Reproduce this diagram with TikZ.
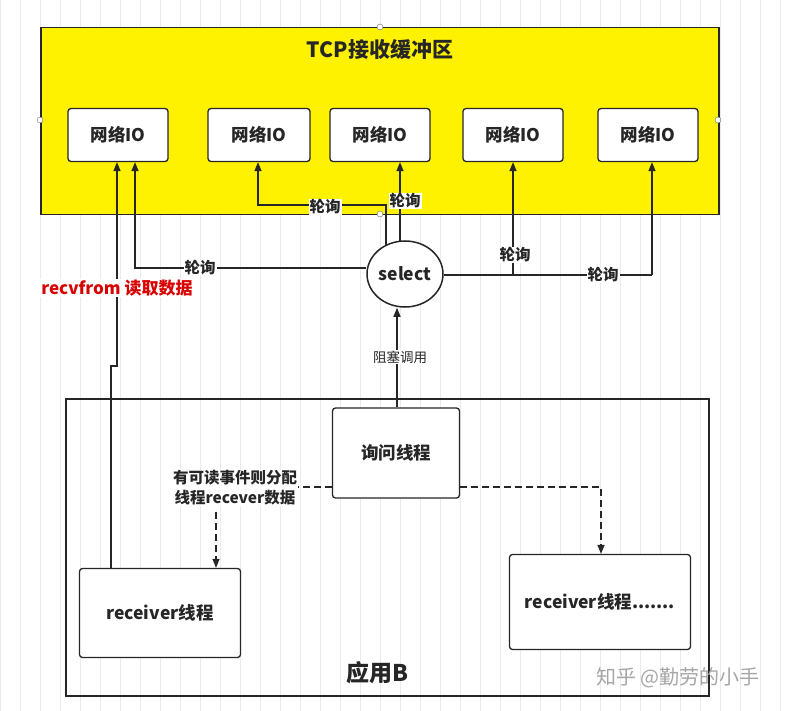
\documentclass[tikz,border=0pt]{standalone}
\usepackage{fontspec}
\setmainfont{Noto Sans CJK SC}
\usetikzlibrary{arrows.meta,shapes.geometric}
\begin{document}
\begin{tikzpicture}[x=1pt,y=-1pt,
  box/.style={draw=black!85,line width=1.3pt,rounded corners=3pt,fill=white,inner sep=0pt},
  lbl/.style={font=\bfseries\fontsize{17.5}{20}\selectfont,text=black!85},
  tag/.style={fill=white,inner sep=1pt,font=\bfseries\fontsize{15.5}{17}\selectfont,text=black!85},
  ar/.style={draw=black!85,line width=1.3pt,-{Triangle[length=9pt,width=7pt]}},
  ln/.style={draw=black!85,line width=1.3pt},
  handle/.style={circle,draw=black!60,fill=white,inner sep=0pt,minimum size=6pt}]
\useasboundingbox (0,0) rectangle (794,711);
\fill[white] (0,0) rectangle (794,711);
\draw[black!8,line width=0.6pt,step=20] (0,0) grid (794,711);
% yellow buffer
\node[draw=black!85,line width=1.5pt,fill=yellow,minimum width=678pt,minimum height=187pt,anchor=north west,inner sep=0pt] (buf) at (40,27) {};
\node[font=\bfseries\fontsize{21}{23}\selectfont,text=black!85] (title) at (380,50) {TCP接收缓冲区};
\node[handle] (h1) at (40,120) {};
\node[handle] (h2) at (718,120) {};
\node[handle] (h3) at (380,27) {};
% IO boxes
\node[box,lbl,minimum width=100pt,minimum height=53pt] (io1) at (118,135) {网络IO};
\node[box,lbl,minimum width=102pt,minimum height=53pt] (io2) at (259,135) {网络IO};
\node[box,lbl,minimum width=100pt,minimum height=53pt] (io3) at (380,135) {网络IO};
\node[box,lbl,minimum width=100pt,minimum height=53pt] (io4) at (513,135) {网络IO};
\node[box,lbl,minimum width=100pt,minimum height=53pt] (io5) at (648,135) {网络IO};
% select
\node[draw=black!85,line width=1.5pt,ellipse,fill=white,minimum width=76pt,minimum height=66pt,lbl,inner sep=0pt] (sel) at (405,274) {select};
% app
\node[draw=black!85,line width=1.5pt,minimum width=643pt,minimum height=297pt,anchor=north west,inner sep=0pt] (app) at (65,398) {};
\node[font=\bfseries\fontsize{23}{25}\selectfont,text=black!85] (appl) at (377,673) {应用B};
\node[box,lbl,minimum width=127pt,minimum height=90pt] (ask) at (396,453) {询问线程};
\node[box,lbl,minimum width=161pt,minimum height=89pt] (r1) at (160,613) {receiver线程};
\node[box,lbl,minimum width=181pt,minimum height=95pt] (r2) at (600,602) {receiver线程.......};
% coordinates
\coordinate (c1) at (135,268);
\coordinate (c2) at (258,205);
\coordinate (c3) at (386,205);
\coordinate (c5) at (652,275);
\coordinate (d1) at (216,487);
\coordinate (d2) at (601,487);
% connectors
\draw[ar] (sel.west |- c1) -- (c1) -- (io1.south -| c1);
\node[tag] (t1) at (200,268) {轮询};
\draw[ar] (386,246) -- (c3) -- (c2) -- (io2.south -| c2);
\node[tag] (t2) at (325,207) {轮询};
\draw[ar] (400,242) -- (io3.south -| 400,0);
\node[tag] (t3) at (405,201) {轮询};
\draw[ln] (sel.east |- c5) -- (c5);
\draw[ar] (c5) -- (io5.south -| c5);
\node[tag] (t5) at (603,275) {轮询};
\draw[ar] (513,275) -- (io4.south -| 513,0);
\node[tag] (t4) at (515,255) {轮询};
\node[handle] (h4) at (380,214) {};
% receiver read
\draw[ar] (r1.north -| 111,0) -- (111,366) -- (117,366) -- (io1.south -| 117,0);
\node[font=\bfseries\fontsize{17}{19}\selectfont,text=red!85!black,fill=white,inner sep=1pt] (rf) at (117,288) {recvfrom 读取数据};
% blocking call
\draw[ar] (ask.north -| 397,0) -- (sel.south -| 397,0);
\node[fill=white,inner sep=1pt,font=\fontsize{13.5}{15}\selectfont,text=black!85] (blk) at (400,357) {阻塞调用};
% dashed
\draw[ln,dash pattern=on 7pt off 4pt] (ask.west |- d1) -- (d1);
\draw[ar,dash pattern=on 7pt off 4pt] (216,512) -- (r1.north -| 216,0);
\node[fill=white,inner sep=1pt,font=\bfseries\fontsize{15.5}{20}\selectfont,text=black!85,align=center] (dl) at (235,488) {有可读事件则分配\\线程recever数据};
\draw[ar,dash pattern=on 7pt off 4pt] (ask.east |- d2) -- (d2) -- (r2.north -| d2);
\node[text=black!35,font=\fontsize{20}{22}\selectfont] (wm) at (678,678) {知乎 @勤劳的小手};
\end{tikzpicture}
\end{document}
